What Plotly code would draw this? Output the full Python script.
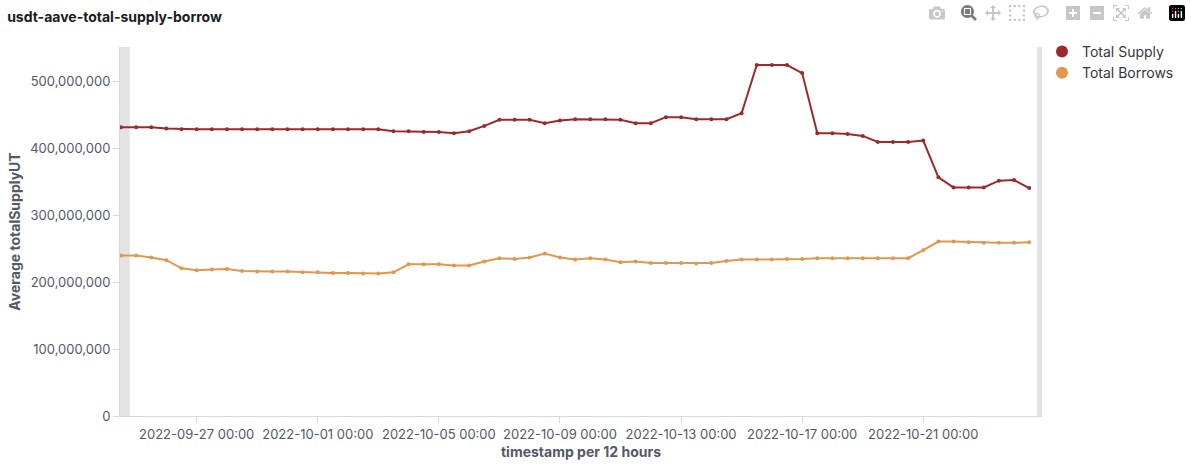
import pandas as pd
import plotly.graph_objects as go

start = "2022-09-24 12:00"
n_points = 61
supply_m = [432,432,432,430,429,429,429,429,429,429,429,429,429,429,429,429,429,429,426,426,
            425,425,423,426,434,443,443,443,438,442,444,444,444,443,438,438,447,447,444,444,
            444,453,525,525,525,513,423,423,422,419,410,410,410,412,357,342,342,342,352,353,341]
borrow_m = [240,240,237,233,221,218,219,220,217,216,216,216,215,215,214,214,213,213,215,227,
            227,227,225,225,231,236,235,237,243,237,234,236,234,230,231,229,229,229,228,229,
            232,234,234,234,235,235,236,236,236,236,236,236,236,248,261,261,260,259,259,259,260]
tick_labels = ["2022-09-27 00:00","2022-10-01 00:00","2022-10-05 00:00","2022-10-09 00:00",
               "2022-10-13 00:00","2022-10-17 00:00","2022-10-21 00:00"]

t = pd.date_range(start, periods=n_points, freq="12h")
supply = [v * 1e6 for v in supply_m]
borrow = [v * 1e6 for v in borrow_m]

step = pd.Timedelta(hours=12)
px = step / 15.4  # time per pixel
x0 = t[0] - px * 1
x1 = t[-1] + px * 13

c_sup, c_bor = "#9c2a2a", "#e0974e"
fig = go.Figure()
fig.add_trace(go.Scatter(x=t, y=supply, name="Total Supply", mode="lines+markers", showlegend=False,
                         line=dict(color=c_sup, width=2), marker=dict(size=4, color=c_sup)))
fig.add_trace(go.Scatter(x=t, y=borrow, name="Total Borrows", mode="lines+markers", showlegend=False,
                         line=dict(color=c_bor, width=2), marker=dict(size=4, color=c_bor)))
for name, c in [("Total Supply", c_sup), ("Total Borrows", c_bor)]:
    fig.add_trace(go.Scatter(x=[None], y=[None], name=name, mode="markers",
                             marker=dict(size=14, color=c)))

fig.add_shape(type="rect", xref="x", yref="paper", x0=x0, x1=t[0] + px * 9, y0=0, y1=1,
              fillcolor="#e3e3e3", line_width=0, layer="below")
fig.add_shape(type="rect", xref="x", yref="paper", x0=t[-1] + px * 8, x1=x1, y0=0, y1=1,
              fillcolor="#e3e3e3", line_width=0, layer="below")

fig.update_layout(
    width=1191, height=470,
    margin=dict(l=120, r=133, t=47, b=54),
    plot_bgcolor="white", paper_bgcolor="white",
    font=dict(family="Inter, sans-serif", size=12, color="#535966"),
    title=dict(text="<b>usdt-aave-total-supply-borrow</b>", x=0.006, y=0.975, xanchor="left",
               font=dict(size=14, color="#1a1c21")),
    legend=dict(x=1.0, y=1.03, xanchor="left", yanchor="top", font=dict(size=14, color="#343741"),
                itemsizing="constant", tracegroupgap=8, itemwidth=30),
    xaxis=dict(range=[x0, x1], tickvals=[pd.Timestamp(s) for s in tick_labels], ticktext=tick_labels,
               showgrid=False, showline=True, linecolor="#d3dae6", ticks="outside", tickcolor="#d3dae6",
               ticklen=6, zeroline=False, tickfont=dict(size=13),
               title=dict(text="<b>timestamp per 12 hours</b>", font=dict(size=14, color="#535966"), standoff=6)),
    yaxis=dict(range=[0, 552e6], tickvals=[0, 1e8, 2e8, 3e8, 4e8, 5e8], tickformat=",d",
               showgrid=False, showline=True, linecolor="#d3dae6", ticks="outside", tickcolor="#d3dae6",
               ticklen=6, zeroline=False, tickfont=dict(size=13),
               title=dict(text="<b>Average totalSupplyUT</b>", font=dict(size=14, color="#535966"), standoff=6)),
)
fig.write_html("out.html")
with open("out.html", encoding="utf-8") as f:
    html = f.read()
html = html.replace("<head>", "<head><style>html,body{margin:0;padding:0;overflow:hidden}</style>", 1)
with open("out.html", "w", encoding="utf-8") as f:
    f.write(html)
